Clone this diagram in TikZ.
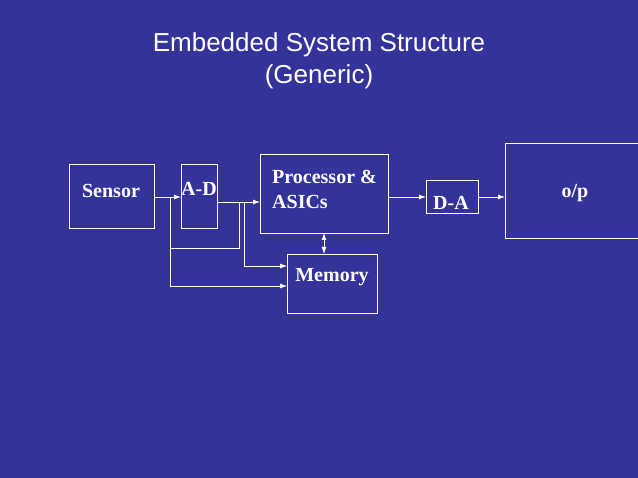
\documentclass[tikz,border=0pt]{standalone}
\usepackage{fontspec}
\setmainfont{Liberation Serif}
\newfontfamily\sansf{Liberation Sans}
\definecolor{bg}{HTML}{333399}
\usetikzlibrary{arrows.meta}
\begin{document}
\begin{tikzpicture}[x=1pt,y=-1pt,
  box/.style={draw=white,line width=0.8pt},
  lbl/.style={text=white,font=\bfseries\fontsize{20}{25}\selectfont,inner sep=0pt},
  ln/.style={draw=white,line width=0.8pt},
  arr/.style={ln,-{Latex[length=7pt,width=5pt]}}]
\fill[bg] (0,0) rectangle (638,478);
\useasboundingbox (0,0) rectangle (638,478);
\node[text=white,font=\sansf\fontsize{26}{32}\selectfont,align=center] (title) at (319,61) {Embedded System Structure\\(Generic)};
\draw[box] (69,164) rectangle (154,228); \coordinate (sen) at (154,197);
\node[lbl] (sensor) at (111,191) {Sensor};
\draw[box] (181,164) rectangle (217,228);
\node[lbl,anchor=west] (ad) at (181,189) {A-D};
\coordinate (adin) at (181,197); \coordinate (adout) at (217,202);
\draw[box] (260,154) rectangle (388,233);
\node[lbl,anchor=west,align=left] (proc) at (272,189) {Processor \&\\ASICs};
\coordinate (pin) at (260,202); \coordinate (pout) at (388,197);
\coordinate (pbot) at (324,233);
\draw[box] (287,254) rectangle (377,313);
\node[lbl] (mem) at (332,277) {Memory};
\coordinate (mtop) at (324,254);
\draw[box] (426,180) rectangle (478,213);
\node[lbl] (da) at (451,203) {D-A};
\coordinate (dain) at (426,197); \coordinate (daout) at (478,197);
\draw[box] (505,143) rectangle (638,238);
\node[lbl] (op) at (575,193) {o/p};
\coordinate (opin) at (505,197);
\draw[arr] (sen) -- (adin);
\draw[arr] (170,197) -- (170,286) -- (287,286);
\draw[arr] (adout) -- (pin);
\draw[ln] (239,202) -- (239,248) -- (170,248);
\draw[arr] (244,202) -- (244,266) -- (287,266);
\draw[ln,{Latex[length=7pt,width=5pt]}-{Latex[length=7pt,width=5pt]}] (pbot) -- (mtop);
\draw[arr] (pout) -- (dain);
\draw[arr] (daout) -- (opin);
\end{tikzpicture}
\end{document}
